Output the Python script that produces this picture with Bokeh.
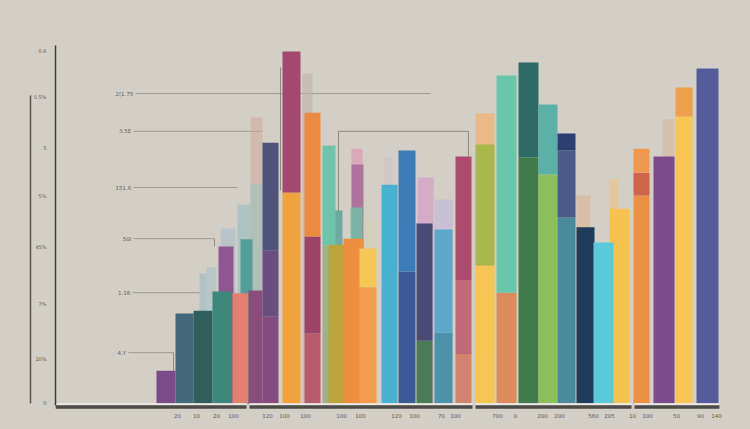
from bokeh.plotting import figure
from bokeh.models import ColumnDataSource, Range1d, FixedTicker, LinearAxis
from bokeh.embed import file_html
from bokeh.resources import INLINE
from bokeh.core.properties import value

# ---------------- data ----------------
# front bars (drawn in this order); totals and inner stack breaks
bar_values = [9.3, 25.5, 26.3, 31.7, 31.2, 32.0, 73.9, 99.7, 82.4, 73.1,
              45.0, 46.7, 43.9, 62.0, 71.7, 51.0, 49.3, 70.0, 73.4, 92.9,
              96.6, 84.7, 76.5, 49.9, 55.2, 45.6, 72.2, 70.0, 89.5, 94.9]
bar_breaks = [[], [], [], [], [], [], [24.6, 43.3], [59.8], [19.8, 47.3], [44.8],
              [], [], [32.9], [], [37.4], [17.8], [20.1], [14.0, 35.0], [39.1], [31.4],
              [69.7], [64.9], [52.7, 71.7], [], [], [], [58.9, 65.4], [], [81.3], []]
bar_positions = [0.508, 1.497, 2.487, 3.503, 4.492, 5.294, 6.096, 7.219, 8.342, 9.225,
                 9.652, 10.535, 11.310, 12.460, 13.396, 14.332, 15.348, 16.417, 17.567, 18.717,
                 19.893, 20.936, 21.925, 22.941, 24.759, 23.904, 25.936, 27.139, 28.209, 29.465]
bar_widths = [1.016, 0.963, 1.016, 1.016, 0.856, 0.749, 0.856, 0.963, 0.856, 0.695,
              0.909, 1.070, 0.909, 0.856, 0.909, 0.856, 0.963, 0.856, 1.016, 1.070,
              1.070, 1.016, 0.963, 0.963, 1.070, 1.070, 0.856, 1.123, 0.909, 1.176]
bar_colors = [["#7b4b88"], ["#44687a"], ["#2f5e5c"], ["#3c897c"], ["#e3806f"], ["#8a4b7d"],
              ["#874c7f", "#6a4e80", "#4f5279"], ["#f2a23c", "#a3486f"],
              ["#b85c6c", "#9b4468", "#ec8b3e"], ["#9fb08a", "#6fc3ab"],
              ["#bda33c"], ["#ee8f3f"], ["#f39c50", "#f6c657"], ["#47b1cf"],
              ["#3d5a96", "#3b7cb9"], ["#4b7c53", "#4a4a78"], ["#4b92aa", "#5ba8ca"],
              ["#d0846e", "#c06a78", "#ad4b6e"], ["#f7c552", "#a9b84c"], ["#dc8c5c", "#69c6aa"],
              ["#3f7b4b", "#2f6b66"], ["#8cbf5b", "#5cb0a8"], ["#4a8a9a", "#4b5b8a", "#2c3f70"],
              ["#1f3d5b"], ["#f7c350"], ["#5ac9d9"], ["#ec9044", "#d0654a", "#ee9850"],
              ["#7b4b8b"], ["#f8c452", "#eea04c"], ["#545c9c"]]

# translucent background bars
back_values = [36.8, 38.5, 49.6, 44.5, 56.4, 81.0, 62.3, 46.5, 93.5, 54.7,
               72.2, 67.7, 55.5, 52.4, 69.7, 64.0, 57.8, 82.2, 58.9, 63.7, 80.5]
back_positions = [2.487, 2.941, 3.824, 3.717, 4.679, 5.348, 5.348, 4.813, 8.075, 9.626,
                  10.722, 10.749, 10.695, 11.417, 12.406, 14.385, 15.348, 17.567, 22.834, 24.465, 27.380]
back_widths = [0.374, 0.535, 0.802, 0.802, 0.695, 0.642, 0.642, 0.642, 0.535, 0.642,
               0.588, 0.642, 0.642, 0.695, 0.428, 0.856, 0.963, 1.016, 0.749, 0.481, 0.642]
back_colors = ["#9ab9c2", "#a6c0c8", "#a9bccb", "#8a4b8a", "#8fbcc2", "#cfa898", "#8fc6c4",
               "#4a9a92", "#bfb0a6", "#5aa59a", "#d9a2b4", "#a46a98", "#72bfa6", "#d6cfb8",
               "#cfc2bc", "#d5a6c6", "#c6bdd6", "#f0b06c", "#d8b696", "#e8c58a", "#d8b6a0"]
back_alpha = [0.6, 0.6, 0.6, 0.9, 0.55, 0.5, 0.5, 0.9, 0.6, 0.85,
              0.85, 0.85, 0.85, 0.6, 0.6, 0.85, 0.85, 0.7, 0.7, 0.7, 0.6]

# reference lines with labels
ref_values = [87.8, 77.1, 61.2, 46.7, 31.4, 14.4]
ref_labels = ["2(1.75", "3.5E", "151.6", "50I", "1.16", "4.Y"]
ref_start = [-1.12, -1.23, -1.23, -1.23, -1.28, -1.50]
ref_end = [14.65, 5.67, 4.33, 3.10, 2.30, 0.91]
leader_x = [3.10, 0.91, 6.63, 9.73, 16.68]
leader_top = [46.7, 14.4, 95.2, 77.1, 77.1]
leader_bottom = [44.5, 9.3, 60.3, 54.1, 70.0]
bracket_value = 77.1
bracket_span = [9.73, 16.68]

# axis labels
y_ticks = [0, 12.7, 28.3, 44.2, 58.9, 72.5, 86.7, 100]
y_labels = ["0", "10%", "7%", "45%", "5%", "5", "0.5%", "0.6"]
x_ticks = [1.123, 2.139, 3.209, 4.118, 5.936, 6.845, 7.968, 9.893, 10.909, 12.834, 13.797, 15.241,
           15.989, 18.235, 19.198, 20.642, 21.551, 23.369, 24.225, 25.455, 26.257, 27.807, 29.091, 29.947]
x_labels = ["20", "10", "20", "100", "120", "100", "100", "100", "100", "120", "100", "70",
            "100", "700", "0", "200", "200", "560", "205", "10", "100", "50", "90", "140"]
baseline_pieces = [(-5.401, 4.813), (4.973, 16.898), (17.059, 25.401), (25.561, 30.102)]

# ---------------- build ----------------
BG = "#d3cfc6"
LINE = "#a19b91"
TXT = "#625e57"

p = figure(width=750, height=429, output_backend="svg", toolbar_location=None,
           x_range=Range1d(-5.401, 31.497), y_range=Range1d(-2.55, 108.5),
           min_border_left=55, min_border_right=5, min_border_top=20, min_border_bottom=17,
           background_fill_color=BG, border_fill_color=BG, outline_line_color=None)
p.styles = {"background-color": BG}
p.xgrid.visible = False
p.ygrid.visible = False

# reference lines (behind bars)
p.segment(x0=ref_start, x1=ref_end, y0=ref_values, y1=ref_values, line_color=LINE, line_width=1)
p.segment(x0=leader_x, x1=leader_x, y0=leader_top, y1=leader_bottom, line_color="#8f897f", line_width=1)
p.segment(x0=[bracket_span[0]], x1=[bracket_span[1]], y0=[bracket_value], y1=[bracket_value],
          line_color="#8f897f", line_width=1)
p.text(x=[s - 0.12 for s in ref_start], y=ref_values, text=ref_labels, text_align="right",
       text_baseline="middle", text_font_size="5.5px", text_color=TXT,
       text_font=value("DejaVu Sans"))

# back bars
back_src = ColumnDataSource(dict(x=back_positions, w=back_widths, top=back_values,
                                 c=back_colors, a=back_alpha))
p.vbar(x="x", width="w", top="top", bottom=0, fill_color="c", fill_alpha="a",
       line_color=None, source=back_src)

# front stacked bars
sx, sw, sb, st, sc = [], [], [], [], []
for i, total in enumerate(bar_values):
    tops = bar_breaks[i] + [total]
    bottom = 0
    for t, c in zip(tops, bar_colors[i]):
        sx.append(bar_positions[i]); sw.append(bar_widths[i])
        sb.append(bottom); st.append(t); sc.append(c)
        bottom = t
front_src = ColumnDataSource(dict(x=sx, w=sw, b=sb, t=st, c=sc))
p.vbar(x="x", width="w", top="t", bottom="b", fill_color="c", line_color=None, source=front_src)

# baseline (white highlight + dark thick line)
bx0 = [a for a, b in baseline_pieces]
bx1 = [b for a, b in baseline_pieces]
p.segment(x0=bx0, x1=bx1, y0=[-0.14] * 4, y1=[-0.14] * 4, line_color="#f3f1ec", line_width=1.5)
p.segment(x0=bx0, x1=bx1, y0=[-1.0] * 4, y1=[-1.0] * 4, line_color="#4d4b47", line_width=3.5)

# axes
ya = p.yaxis[0]
ya.ticker = FixedTicker(ticks=y_ticks)
ya.major_label_overrides = {float(t): l for t, l in zip(y_ticks, y_labels)}
ya.bounds = (-0.57, 101.4)
ya.axis_line_color = "#3f3d39"
ya.axis_line_width = 1.5
ya.major_tick_line_color = None
ya.minor_tick_line_color = None
ya.major_tick_out = 0
ya.major_tick_in = 0
ya.minor_tick_out = 0
ya.minor_tick_in = 0
ya.major_label_standoff = 9
ya.major_label_text_font_size = "5px"
ya.major_label_text_color = TXT
ya.major_label_text_font = "DejaVu Sans"

ya2 = LinearAxis(ticker=FixedTicker(ticks=[]), bounds=(0, 87.3), axis_line_color="#5a5650",
                 axis_line_width=1.5, major_tick_line_color=None, minor_tick_line_color=None,
                 major_tick_out=0, minor_tick_out=0, major_label_text_font_size="0px")
p.add_layout(ya2, "left")

xa = p.xaxis[0]
xa.ticker = FixedTicker(ticks=x_ticks)
xa.major_label_overrides = {float(t): l for t, l in zip(x_ticks, x_labels)}
xa.axis_line_color = None
xa.major_tick_line_color = None
xa.minor_tick_line_color = None
xa.major_tick_out = 0
xa.major_tick_in = 0
xa.minor_tick_out = 0
xa.minor_tick_in = 0
xa.major_label_standoff = 0
xa.major_label_text_font_size = "5.5px"
xa.major_label_text_color = TXT
xa.major_label_text_font = "DejaVu Sans"

open("out.html", "w").write(file_html(p, INLINE))
